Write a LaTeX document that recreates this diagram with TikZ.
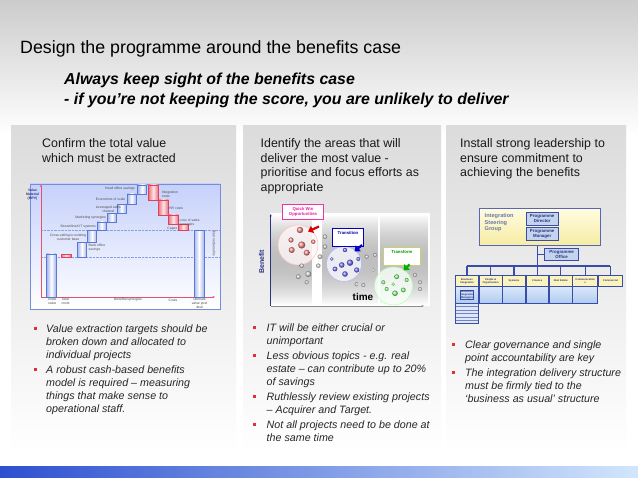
\documentclass[tikz,border=0pt]{standalone}
\usepackage{fontspec}
\setmainfont{Liberation Sans}
\usetikzlibrary{arrows.meta,fadings}
\definecolor{barblue}{HTML}{5A78D8}
\definecolor{barred}{HTML}{E0405A}
\definecolor{axred}{HTML}{E8506A}
\definecolor{navy}{HTML}{2A3480}
\definecolor{orgline}{HTML}{3B4BA8}
\definecolor{ylw}{HTML}{FBF4BE}
\definecolor{ylwtop}{HTML}{FFFCE2}
\definecolor{ylwbot}{HTML}{F6ECA2}
\definecolor{cellt}{HTML}{DCE8FA}
\definecolor{cellb}{HTML}{AFCBF0}
\definecolor{pdfill}{HTML}{C4D4EE}
\definecolor{bul}{HTML}{E03030}
\definecolor{barL}{HTML}{2D50D0}
\definecolor{barR}{HTML}{D2E6FC}
\definecolor{isgtext}{HTML}{6A78A8}
\definecolor{trgreen}{HTML}{C8D070}
\begin{document}
\begin{tikzpicture}[x=1pt,y=-1pt,
  lbl/.style={font=\fontsize{3.4}{3.9}\selectfont, inner sep=0pt, text=black!70, align=center},
  bluebar/.style={draw=barblue, line width=0.5pt, left color=barblue!55, right color=barblue!55, middle color=white},
  redbar/.style={draw=barred, line width=0.5pt, left color=barred!75, right color=barred!75, middle color=white!90!red},
  heading/.style={font=\fontsize{12.4}{14}\selectfont, inner sep=0pt, anchor=base west, text=black!90},
  btxt/.style={font=\fontsize{10.7}{13}\selectfont\itshape, inner sep=0pt, anchor=base west, text=black!85},
  panel/.style={top color=black!14, bottom color=white, draw=none},
  tag/.style={draw, fill=white, line width=0.7pt, inner sep=0pt, font=\fontsize{4.3}{4.8}\selectfont\bfseries, align=center},
  orgbox/.style={draw=orgline, line width=0.6pt, inner sep=0pt, align=center, font=\fontsize{2.6}{3}\selectfont\bfseries, text=navy},
  conn/.style={draw=orgline, line width=1.2pt},
  bshape/.style={fill=bul}
]
\useasboundingbox (0,0) rectangle (638,478);
% background
\fill[white] (0,0) rectangle (638,478);
\fill[top color=black!20, bottom color=white] (0,0) rectangle (638,135);
% panels
\fill[panel] (11,126) rectangle (236,452);
\fill[panel] (243,126) rectangle (441,452);
\fill[panel] (446,126) rectangle (626,452);
% bottom bar
\fill[left color=barL, right color=barR] (0,467) rectangle (638,478);

% title and subtitle
\node[inner sep=0pt, anchor=base west, font=\fontsize{17.8}{20}\selectfont] (title) at (20,53.3) {Design the programme around the benefits case};
\node[inner sep=0pt, anchor=base west, font=\fontsize{15.9}{18}\selectfont\bfseries\itshape] (sub1) at (64,85) {Always keep sight of the benefits case};
\node[inner sep=0pt, anchor=base west, font=\fontsize{15.9}{18}\selectfont\bfseries\itshape] (sub2) at (64,104.3) {- if you’re not keeping the score, you are unlikely to deliver};

% headings
\node[heading] (h11) at (42,148) {Confirm the total value};
\node[heading] (h12) at (42,162.5) {which must be extracted};
\node[heading] (h21) at (260.5,148) {Identify the areas that will};
\node[heading] (h22) at (260.5,162.5) {deliver the most value -};
\node[heading] (h23) at (260.5,177) {prioritise and focus efforts as};
\node[heading] (h24) at (260.5,192) {appropriate};
\node[heading] (h31) at (460,148) {Install strong leadership to};
\node[heading] (h32) at (460,162.5) {ensure commitment to};
\node[heading] (h33) at (460,177) {achieving the benefits};

% ---------------- left chart ----------------
\draw[top color=cellt!90!blue, bottom color=white, draw=barblue!85, line width=0.6pt] (30,184) rectangle (220,309);
\draw[densely dotted, draw=barblue!70, line width=0.4pt] (41,230.7) -- (219,230.7);
\draw[densely dotted, draw=barblue!70, line width=0.4pt] (41,257.3) -- (219,257.3);
\draw[axred, line width=0.6pt, -{Stealth[length=2.5pt,width=2pt]}] (41,297) -- (41,184.5);
\draw[axred, line width=0.6pt, -{Stealth[length=2.5pt,width=2pt]}] (41,297) -- (215,297);
% blue bars
\draw[bluebar] (46.7,254) rectangle (56,297);
\draw[bluebar] (77.3,242.7) rectangle (86.7,257.3);
\draw[bluebar] (87.3,230.7) rectangle (96.7,242.7);
\draw[bluebar] (97.3,222) rectangle (106,230.7);
\draw[bluebar] (107.7,213.3) rectangle (116,222);
\draw[bluebar] (117.3,204.3) rectangle (126,213.3);
\draw[bluebar] (127.3,194) rectangle (136,204.3);
\draw[bluebar] (137.7,185) rectangle (146.7,194);
\draw[bluebar] (194,230.7) rectangle (204,297);
% red bars
\draw[redbar] (61,254.7) rectangle (71,257);
\draw[redbar] (148.3,185) rectangle (158.3,200);
\draw[redbar] (158.3,200) rectangle (168.3,215);
\draw[redbar] (168.3,215) rectangle (178.3,224.3);
\draw[redbar] (178.3,224.3) rectangle (188.3,230);
% labels
\node[lbl, text=navy, font=\fontsize{3.4}{4.2}\selectfont\bfseries] (vm) at (32.5,194.7) {Value\\Material\\(MPV)};
\node[lbl, anchor=east] (l1) at (135,189) {Head office savings};
\node[lbl, anchor=east] (l2) at (125.5,199) {Economies of scale};
\node[lbl] (l3) at (108.3,209.5) {Leveraged sales\\channel};
\node[lbl, anchor=east] (l4) at (106,218) {Marketing synergies};
\node[lbl, anchor=east] (l5) at (96,226.5) {Streamlined IT systems};
\node[lbl] (l6) at (68,237) {Cross-selling to existing\\customer base};
\node[lbl, anchor=west, align=left] (l7) at (88.5,247.8) {Back office\\savings};
\node[lbl, anchor=west, align=left] (l8) at (161.7,194) {Integration\\costs};
\node[lbl, anchor=west] (l9) at (169,208) {HR costs};
\node[lbl, anchor=west, align=left] (l10) at (179.5,222.7) {Loss of sales\\synergies};
\node[lbl, anchor=east] (l11) at (177.5,228.3) {Capex};
\node[lbl, rotate=-90] (l12) at (214,243) {Total net benefits};
\node[lbl] (b1) at (52.3,301.7) {Initial\\value};
\node[lbl] (b2) at (65.5,301.7) {Deal\\costs};
\node[lbl] (b3) at (128,300) {Benefits/synergies};
\node[lbl] (b4) at (173,300) {Costs};
\node[lbl] (b5) at (199.5,303.5) {Ultimate\\value post\\deal};

% ---------------- middle chart ----------------
\fill[white] (270,213) rectangle (430,306);
\fill[left color=white, middle color=red!14, right color=white, path fading=north] (270,214) rectangle (312,305);
\fill[left color=white, middle color=blue!16, right color=white, path fading=north] (322,214) rectangle (378,305);
\fill[left color=white, middle color=green!16, right color=white, path fading=north] (380,214) rectangle (428,305);
\draw[navy, line width=0.5pt, -{Stealth[length=2.5pt,width=2pt]}] (270.7,306) -- (270.7,214);
\draw[black!45, line width=0.5pt, -{Stealth[length=2.5pt,width=2pt]}] (270.7,306) -- (424,306);
% clusters
\draw[draw=red!25, fill=red!3, fill opacity=0.8, line width=0.5pt] (298,245) circle (20);
\draw[draw=blue!30, fill=blue!3, fill opacity=0.8, line width=0.5pt] (344,264) circle (17.5);
\draw[draw=green!30, fill=green!3, fill opacity=0.8, line width=0.5pt] (393.5,286) circle (19);
% gray balls
\foreach \x/\y/\r in {325/236.7/2.2, 325/246.7/2.2, 320/256.7/2.4, 318.3/265.7/2.2, 301.7/265.7/2.2, 308.3/274/3, 298.3/276.7/2.4, 306.7/282.3/2, 366.7/256.7/2, 375/255/2, 373.3/270/1.8, 356.7/284.3/2, 363.3/285/2, 415/275/2, 420/282.3/2, 420/289/2}
  \shade[ball color=gray!30] (\x,\y) circle (\r);
% red balls
\foreach \x/\y/\r in {300/230/3.2, 291/240/2.6, 301.7/245/3.6, 291.7/250/3, 306.7/252.7/3, 313.3/241.7/2.2}
  \shade[ball color=red!45] (\x,\y) circle (\r);
% blue balls
\foreach \x/\y/\r in {345/250/2.2, 358.3/259/2, 350/262.7/3.2, 341.7/265/2.8, 335/269/2.4, 345/274/2.8, 356.7/270/2.6, 331.7/259/1.9}
  \shade[ball color=blue!55] (\x,\y) circle (\r);
% green balls
\foreach \x/\y/\r in {396.7/276.7/2.4, 406.7/280/2, 383.3/282.3/2, 393.3/284.3/1.7, 403.3/290/2.4, 386.7/289/2, 395/293.3/2.8}
  \shade[ball color=green!50] (\x,\y) circle (\r);
% tags
\node[tag, draw=magenta!80, text=magenta!90, minimum width=41pt, minimum height=15pt] (qw) at (303,211.5) {Quick Win\\Opportunities};
\node[tag, draw=blue!75!black, minimum width=30.6pt, minimum height=17.7pt] (tr) at (348,237.2) {};
\node[inner sep=0pt, font=\fontsize{4.3}{4.8}\selectfont\bfseries, text=blue!70!black] (trt) at (348,233.3) {Transition};
\node[tag, draw=trgreen, minimum width=37.4pt, minimum height=17.3pt] (tf) at (402,256.3) {};
\node[inner sep=0pt, font=\fontsize{4.3}{4.8}\selectfont\bfseries, text=green!60!black] (tft) at (402,252.3) {Transform};
\coordinate (ra) at (308,231.5);
\coordinate (ba) at (354.5,251.5);
\coordinate (ga) at (403.5,270.5);
\draw[line width=2.2pt, red!85!black, -{Triangle[length=5pt,width=7.5pt]}] (319,226.5) -- (ra);
\draw[line width=2.2pt, blue!80!black, -{Triangle[length=5pt,width=7.5pt]}] (362,245) -- (ba);
\draw[line width=2.2pt, green!70!black, -{Triangle[length=5pt,width=7.5pt]}] (409.5,264.5) -- (ga);
\node[inner sep=0pt, rotate=90, font=\fontsize{7}{8}\selectfont\bfseries, text=navy] (ben) at (261.5,262) {Benefit};
\node[inner sep=0pt, font=\fontsize{10}{12}\selectfont\bfseries] (time) at (363,297) {time};

% ---------------- org chart ----------------
\node[draw=orgline!85, line width=1pt, top color=ylwtop, bottom color=ylwbot, minimum width=121.7pt, minimum height=37.4pt, inner sep=0pt] (isg) at (539.85,227) {};
\node[inner sep=0pt, anchor=west, align=left, font=\fontsize{5.6}{6.7}\selectfont\bfseries, text=isgtext] (isgt) at (484.5,222.7) {Integration\\Steering\\Group};
\node[draw=orgline, line width=0.7pt, fill=pdfill, minimum width=31.7pt, minimum height=12.7pt, inner sep=0pt, align=center, font=\fontsize{4.4}{5}\selectfont\bfseries, text=navy] (pd) at (542.2,218.7) {Programme\\Director};
\node[draw=orgline, line width=0.7pt, fill=pdfill, minimum width=31.7pt, minimum height=12.7pt, inner sep=0pt, align=center, font=\fontsize{4.4}{5}\selectfont\bfseries, text=navy] (pm) at (542.2,233.7) {Programme\\Manager};
\node[draw=orgline, line width=0.7pt, fill=pdfill, minimum width=34pt, minimum height=12.4pt, inner sep=0pt, align=center, font=\fontsize{4.4}{5}\selectfont\bfseries, text=navy] (po) at (561.7,254.5) {Programme\\Office};
% row boxes
\foreach \n/\xa/\xb/\t in {1/455.3/478.7/{Business\\Integration}, 2/479.3/502/{People \&\\Organisation}, 3/502.7/525.3/{Systems}, 4/526/548.7/{Finance}, 5/549.7/572/{Real Estate}, 6/572.7/597.7/{Communication\\s}, 7/598.7/622/{Commercial}}
  \node[orgbox, fill=ylw, minimum width=\xb pt-\xa pt, minimum height=11.7pt] (r\n) at ({(\xa+\xb)/2},280.85) {\t};
\foreach \n/\xa/\xb in {1/455.3/478.7, 2/479.3/502, 3/502.7/525.3, 4/526/548.7, 5/549.7/572, 6/572.7/597.7}
  \node[orgbox, top color=cellt, bottom color=cellb, minimum width=\xb pt-\xa pt, minimum height=16.6pt] (c\n) at ({(\xa+\xb)/2},295) {};
\node[orgbox, font=\fontsize{2.6}{3}\selectfont\bfseries] (c1t) at (c1) {Business\\Integration\\Managers};
\fill[cellt] (455.3,303.3) rectangle (478.7,323.3);
\foreach \y in {306.8,310.3,313.8,317.3,320.8}
  \draw[orgline!70, line width=0.6pt] (455.3,\y) -- (478.7,\y);
\draw[orgline, line width=0.6pt] (455.3,303.3) rectangle (478.7,323.3);
% connectors
\coordinate (bus) at (537.35,266);
\draw[conn] (isg.south -| bus) -- (bus);
\draw[conn] (po.west) -- (po.west -| bus);
\draw[conn] (r1.north |- bus) -- (r7.north |- bus);
\foreach \n in {1,...,7}
  \draw[conn] (r\n.north |- bus) -- (r\n.north);

% ---------------- bullets ----------------
\foreach \y in {329, 370}
  \fill[bshape] (33.5,\y-1.5) rectangle +(3,3);
\foreach \y/\t in {333/{Value extraction targets should be}, 346/{broken down and allocated to}, 358.5/{individual projects}, 374/{A robust cash-based benefits}, 387/{model is required – measuring}, 400/{things that make sense to}, 412.5/{operational staff.}}
  \node[btxt] (p1-\y) at (46,\y) {\t};
\foreach \y in {328, 356, 397, 425}
  \fill[bshape] (252.8,\y-1.5) rectangle +(3,3);
\foreach \y/\t in {332/{IT will be either crucial or}, 345/{unimportant}, 360/{Less obvious topics - e.g. real}, 373/{estate – can contribute up to 20\%}, 385.5/{of savings}, 401/{Ruthlessly review existing projects}, 413.5/{– Acquirer and Target.}, 429/{Not all projects need to be done at}, 441.5/{the same time}}
  \node[btxt] (p2-\y) at (266.5,\y) {\t};
\foreach \y in {345, 373}
  \fill[bshape] (451.5,\y-1.5) rectangle +(3,3);
\foreach \y/\t in {349/{Clear governance and single}, 362/{point accountability are key}, 377/{The integration delivery structure}, 390/{must be firmly tied to the}, 403/{‘business as usual’ structure}}
  \node[btxt] (p3-\y) at (465,\y) {\t};
\end{tikzpicture}
\end{document}
